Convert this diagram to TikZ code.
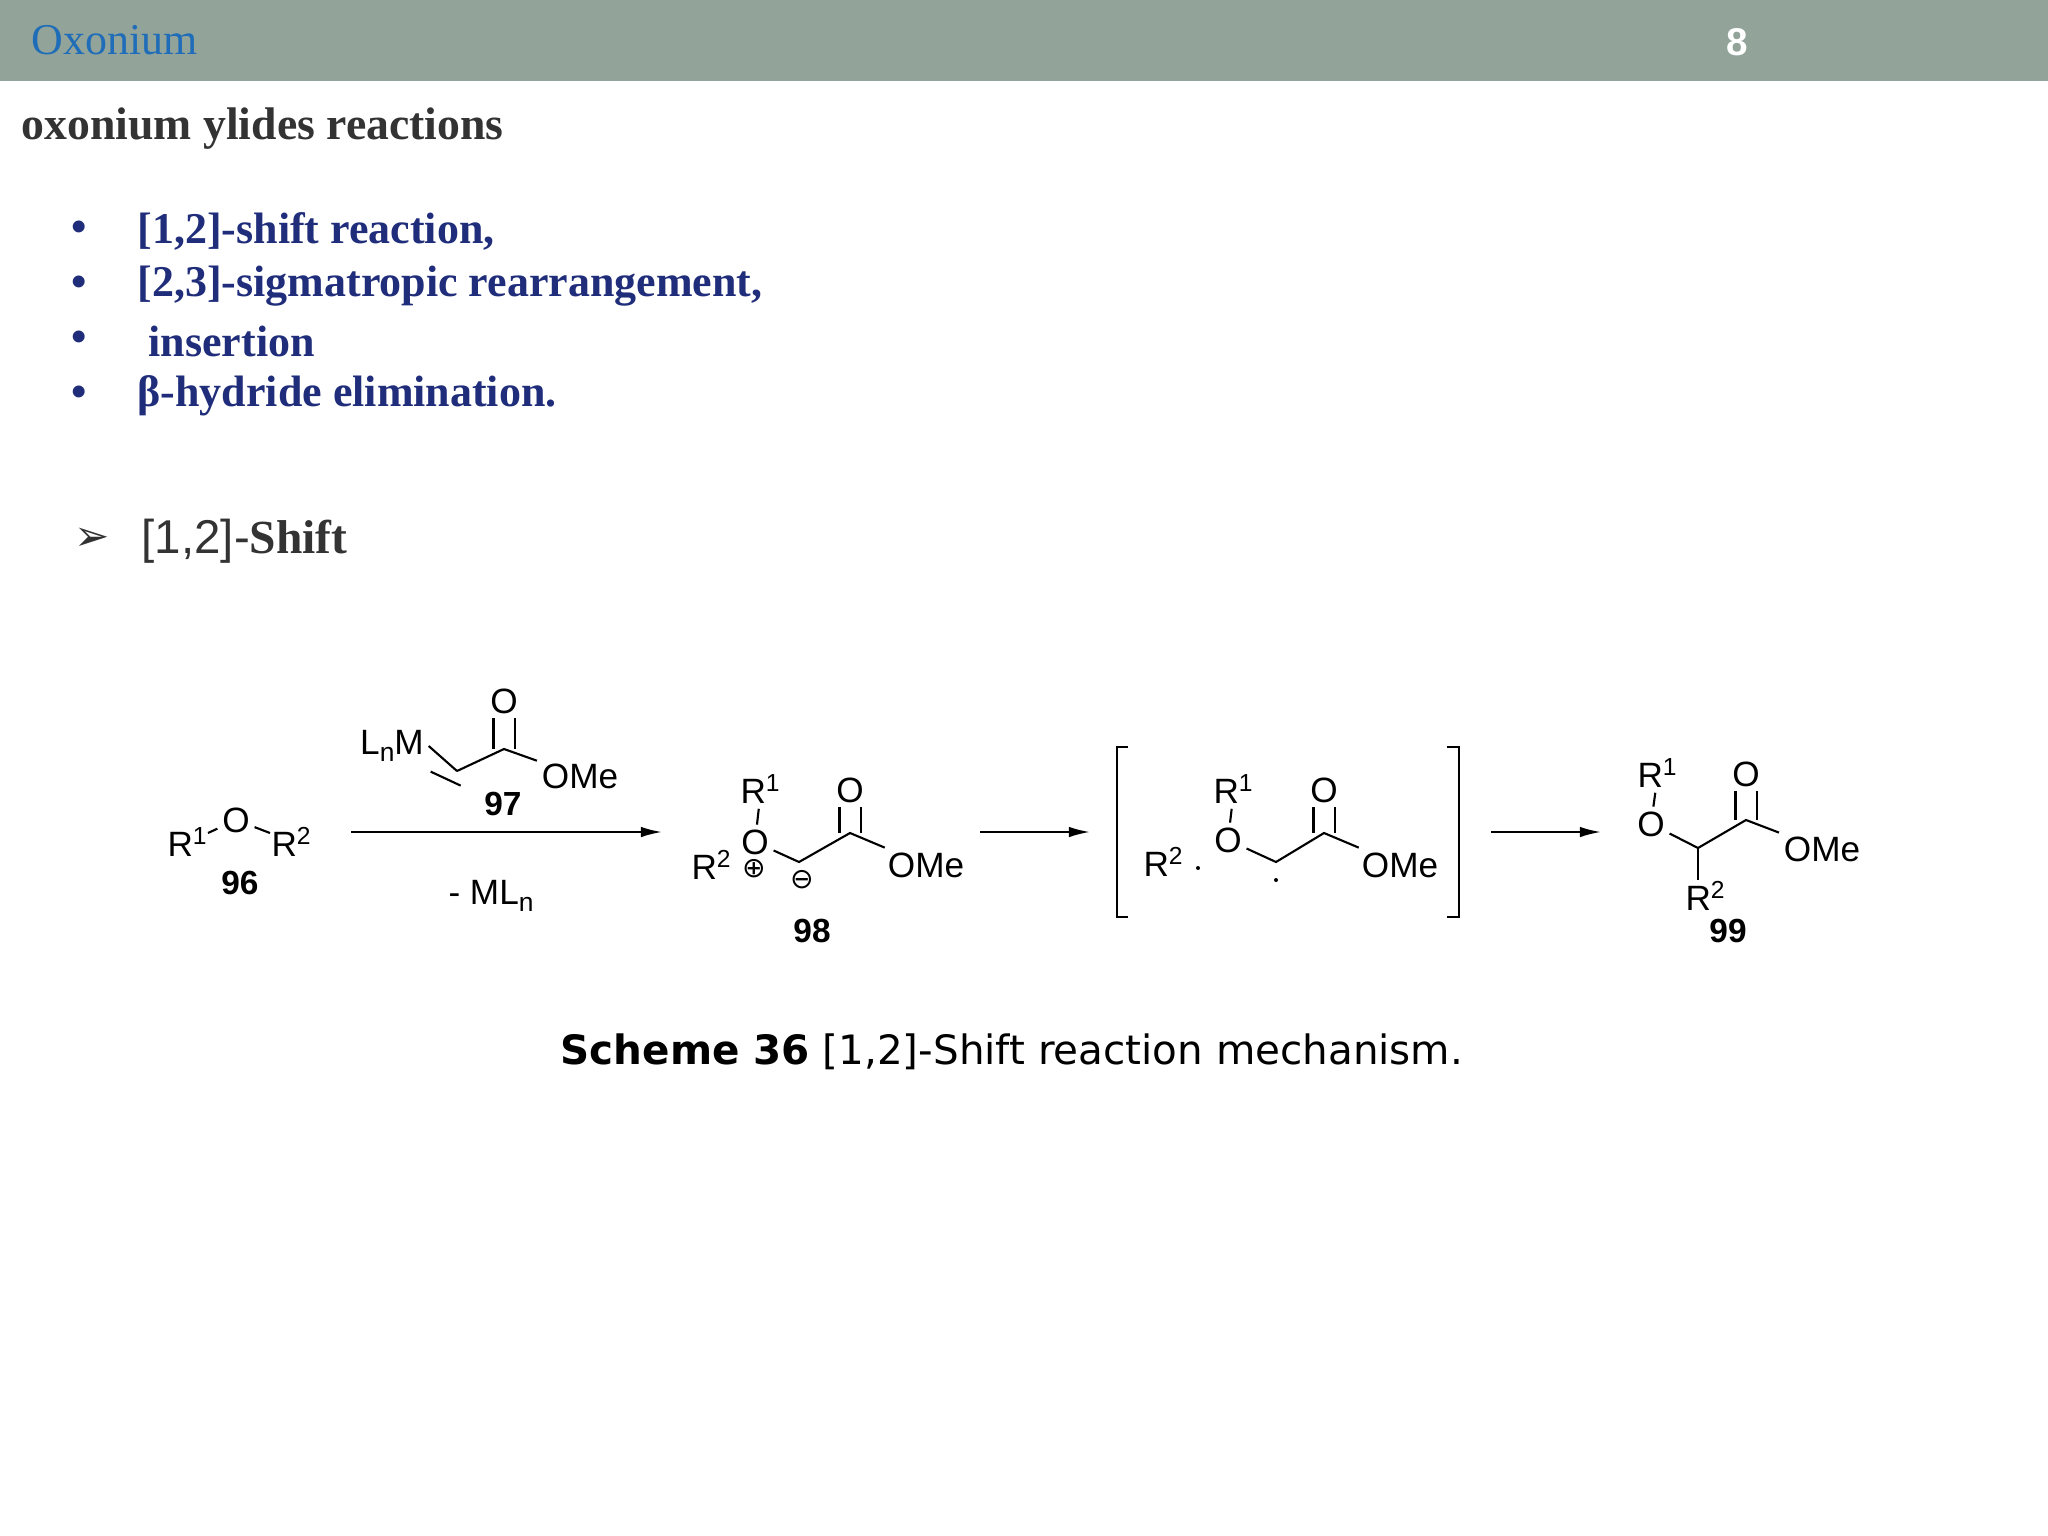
\documentclass[tikz,border=0pt]{standalone}
\usepackage{fontspec}
\setmainfont{Liberation Serif}
\newfontfamily\chem{Liberation Sans}
\newfontfamily\capf{DejaVu Sans}
\newfontfamily\symf{DejaVu Sans}
\usetikzlibrary{arrows.meta}
\definecolor{hdr}{HTML}{92A39A}
\definecolor{ttl}{HTML}{1F6DB8}
\definecolor{navy}{HTML}{1F2D7A}
\definecolor{dk}{HTML}{333333}
\newcommand{\mysu}[1]{\textsuperscript{#1}}
\newcommand{\mysb}[1]{\raisebox{-0.35ex}{\fontsize{7.5}{8}\selectfont #1}}
\tikzset{
 atm/.style={font=\chem\fontsize{10}{12}\selectfont, inner sep=1.2pt},
 lbl/.style={font=\chem\bfseries\fontsize{9.5}{11}\selectfont, inner sep=0pt},
 bond/.style={line width=0.6pt},
 rxn/.style={line width=0.6pt,-{Latex[length=6pt,width=3pt]}},
 bul/.style={font=\bfseries\fontsize{12.5}{14}\selectfont, text=navy, anchor=west, inner sep=0pt},
 brk/.style={line width=0.7pt}
}
\begin{document}
\begin{tikzpicture}[x=0.01cm,y=-0.01cm]
\useasboundingbox (0,0) rectangle (2048,1536);
\fill[white] (0,0) rectangle (2048,1536);
\fill[hdr] (0,0) rectangle (2048,81);
\node[anchor=west,text=ttl,font=\fontsize{12.5}{14}\selectfont,inner sep=0] (hd) at (31,40) {Oxonium};
\node[text=white,font=\chem\bfseries\fontsize{11}{13}\selectfont] (pg) at (1737,42) {8};
\node[anchor=west,text=dk,font=\bfseries\fontsize{13}{15}\selectfont,inner sep=0] (sub) at (21,129) {oxonium ylides reactions};
\foreach \y/\t [count=\i] in {231/{[1,2]-shift reaction,},286/{[2,3]-sigmatropic rearrangement,},341/{\ insertion},396/{β-hydride elimination.}}{
 \node[bul] (b\i) at (71,\y) {•};
 \node[bul] (t\i) at (137,\y) {\t};
}
\node[anchor=west,text=dk,inner sep=0,font=\symf\fontsize{12}{14}\selectfont] (ar) at (74,539) {➢};
\node[anchor=west,text=dk,inner sep=0] (sh) at (141,541) {{\chem\fontsize{13.5}{15}\selectfont [1,2]-}{\bfseries\fontsize{13.5}{15}\selectfont Shift}};

% 96
\node[atm] (a1) at (188,842) {R\mysu{1}};
\node[atm] (ao) at (236,820) {O};
\node[atm] (a2) at (292,842) {R\mysu{2}};
\draw[bond] (208,833) -- (ao); \draw[bond] (ao) -- (270,833);
\node[lbl] (l96) at (240,883) {96};
% arrow 1
\coordinate (r1s) at (351,832); \coordinate (r1e) at (662,832);
\draw[rxn] (r1s) -- (r1e);
% 97
\node[atm] (lnm) at (392,746) {L\mysb{n}M};
\coordinate (c97a) at (457,771); \coordinate (c97b) at (504,749);
\node[atm] (o97) at (504,701) {O};
\node[atm] (ome97) at (580,776) {OMe};
\draw[bond] (lnm.east) -- (c97a); \draw[bond] ([yshift=-7]lnm.east) ++(2,1) -- ++(30,14);
\draw[bond] (c97a) -- (c97b) -- (ome97);
\draw[bond] ([xshift=-3]c97b) -- ([xshift=-3]o97.south); \draw[bond] ([xshift=3]c97b) -- ([xshift=3]o97.south);
\node[lbl] (l97) at (503,804) {97};
\node[atm] (mln) at (491,896) {- ML\mysb{n}};
% 98
\node[atm] (o98) at (755,842) {O};
\node[atm] (r198) at (761,789) {R\mysu{1}};
\node[atm] (r298) at (712,865) {R\mysu{2}};
\node[font=\symf\fontsize{8}{9}\selectfont,inner sep=0] (pl) at (754,869) {⊕};
\node[font=\symf\fontsize{8}{9}\selectfont,inner sep=0] (mi) at (802,880) {⊖};
\coordinate (c98a) at (799,862); \coordinate (c98b) at (850,833);
\node[atm] (oo98) at (850,790) {O};
\node[atm] (ome98) at (926,865) {OMe};
\draw[bond] (r198) -- (o98); \draw[bond] (o98) -- (c98a) -- (c98b) -- (ome98);
\draw[bond] ([xshift=-3]c98b) -- ([xshift=-3]oo98.south); \draw[bond] ([xshift=3]c98b) -- ([xshift=3]oo98.south);
\node[lbl] (l98) at (812,931) {98};
% arrow 2
\coordinate (r2s) at (980,832); \coordinate (r2e) at (1090,832);
\draw[rxn] (r2s) -- (r2e);
% bracket
\draw[brk] (1128,747) -- (1117,747) -- (1117,917) -- (1128,917);
\draw[brk] (1447,747) -- (1459,747) -- (1459,917) -- (1447,917);
\node[atm] (r2i) at (1164,862) {R\mysu{2}};
\fill (1198,868) circle (2);
\node[atm] (oi) at (1228,840) {O};
\node[atm] (r1i) at (1234,789) {R\mysu{1}};
\coordinate (ci) at (1276,862); \coordinate (cci) at (1324,833);
\fill (1276,880) circle (2);
\node[atm] (ooi) at (1324,790) {O};
\node[atm] (omei) at (1400,865) {OMe};
\draw[bond] (r1i) -- (oi); \draw[bond] (oi) -- (ci) -- (cci) -- (omei);
\draw[bond] ([xshift=-3]cci) -- ([xshift=-3]ooi.south); \draw[bond] ([xshift=3]cci) -- ([xshift=3]ooi.south);
% arrow 3
\coordinate (r3s) at (1491,832); \coordinate (r3e) at (1601,832);
\draw[rxn] (r3s) -- (r3e);
% 99
\node[atm] (o99) at (1651,824) {O};
\node[atm] (r199) at (1658,773) {R\mysu{1}};
\coordinate (c99) at (1698,848); \coordinate (cc99) at (1746,820);
\node[atm] (oo99) at (1746,774) {O};
\node[atm] (ome99) at (1822,849) {OMe};
\node[atm] (r299) at (1706,896) {R\mysu{2}};
\draw[bond] (r199) -- (o99); \draw[bond] (o99) -- (c99) -- (cc99) -- (ome99);
\draw[bond] (c99) -- (1698,880);
\draw[bond] ([xshift=-3]cc99) -- ([xshift=-3]oo99.south); \draw[bond] ([xshift=3]cc99) -- ([xshift=3]oo99.south);
\node[lbl] (l99) at (1728,931) {99};
% caption
\node[font=\capf\fontsize{11.5}{14}\selectfont,inner sep=0] (cap) at (1012,1052) {\textbf{Scheme 36} [1,2]-Shift reaction mechanism.};
\end{tikzpicture}
\end{document}
